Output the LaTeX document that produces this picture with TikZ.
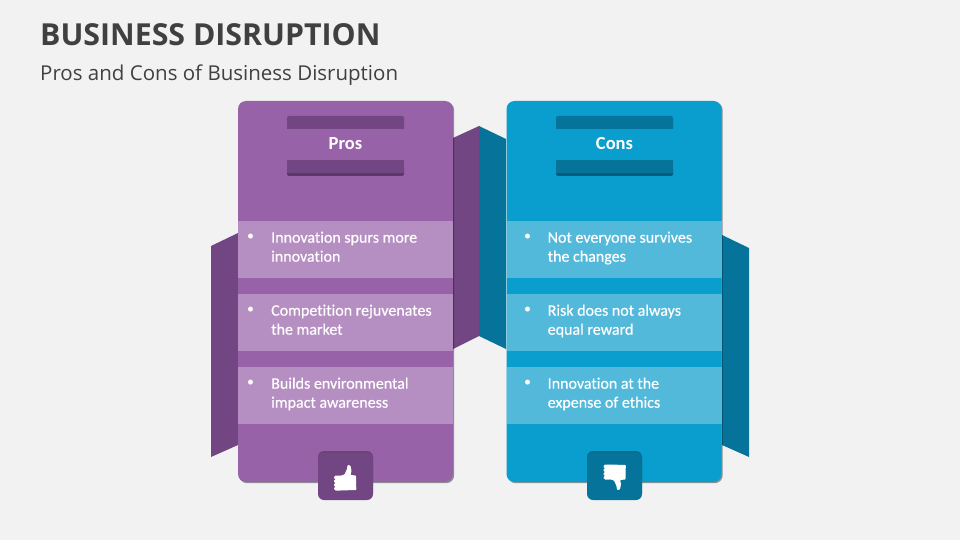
\documentclass[tikz,border=0pt]{standalone}
\usepackage{fontspec}
\setmainfont{Open Sans}
\newfontfamily\cardfont{Carlito}
\newfontfamily\itemfont[FakeBold=0.35,Ligatures=NoCommon]{Carlito}
\usetikzlibrary{positioning,shadows,calc}

\definecolor{pagebg}{HTML}{F2F2F2}
\definecolor{titlegray}{HTML}{404040}
\definecolor{prosmain}{HTML}{9862A8}
\definecolor{prosdark}{HTML}{724682}
\definecolor{proslight}{HTML}{B68FC2}
\definecolor{consmain}{HTML}{099ECD}
\definecolor{consdark}{HTML}{06749A}
\definecolor{conslight}{HTML}{53B9DB}

\tikzset{
  cardbox/.style={rectangle,rounded corners=8pt,minimum width=215pt,minimum height=381pt,inner sep=0pt,outer sep=0pt,
    drop shadow={shadow xshift=1.2pt,shadow yshift=-1.2pt,opacity=.4,fill=black}},
  bandbox/.style={rectangle,minimum width=215pt,minimum height=57pt,inner sep=0pt,outer sep=0pt,node distance=16pt},
  headtext/.style={font=\cardfont\bfseries\fontsize{18.5}{20}\selectfont,text=white,inner sep=0pt},
  itemtext/.style={font=\itemfont\fontsize{16}{19}\selectfont,text=white,align=left,inner sep=0pt,anchor=west,
    execute at begin node=\strut,execute at end node=\strut},
  itemdot/.style={font=\cardfont\fontsize{14}{19}\selectfont,text=white,inner sep=0pt},
  iconbox/.style={rectangle,rounded corners=6pt,minimum width=55pt,minimum height=47pt,inner sep=0pt,outer sep=0pt,
    drop shadow={shadow xshift=0pt,shadow yshift=2pt,opacity=.3,fill=black}},
  thumbicon/.pic={
    \fill[white,rounded corners=.8pt] (-6,-2) -- (-1,-3.5) -- (1.5,-9) -- (2,-13) -- (5,-12.5) -- (6,-7) -- (5,-3)
      -- (10.5,-2.5) -- (10.8,12) -- (-6,12.5) -- cycle;
    \foreach \yy in {-2.5,1.2,4.9,8.6}
      \fill[white,rounded corners=1.5pt] (-11.5,\yy) rectangle (-4,\yy+3.9);
  }
}

\begin{document}
\begin{tikzpicture}[x=1pt,y=-1pt]
  \fill[pagebg] (0,0) rectangle (960,540);
  \useasboundingbox (0,0) rectangle (960,540);

  \node[anchor=west,inner sep=0pt,font=\bfseries\fontsize{30.3}{36}\selectfont,text=titlegray] (title) at (40,35) {BUSINESS DISRUPTION};
  \node[anchor=west,inner sep=0pt,font=\fontsize{20.5}{24}\selectfont,text=titlegray] (subtitle) at (40,75) {Pros and Cons of Business Disruption};

  % folded strips behind the cards
  \fill[prosdark] (211,246) -- (238,233) -- (238,445) -- (211,457) -- cycle;
  \fill[prosdark] (453,138) -- (479,126) -- (479,336) -- (453,349) -- cycle;
  \fill[consdark] (479,126) -- (506,139) -- (506,349) -- (479,336) -- cycle;
  \fill[consdark] (722,235) -- (749,248) -- (749,457) -- (722,445) -- cycle;

  \node[cardbox,fill=prosmain] (pros) at (345.5,291.5) {};
  \node[cardbox,fill=consmain] (cons) at (614,291.5) {};

  % header bars
  \fill[prosdark,rounded corners=2pt] (287,129) -- (287,116) -- (404,116) -- (404,129);
  \fill[prosdark!80!black,rounded corners=2pt] (287,165) rectangle (404,176);
  \fill[prosdark] (287,160) rectangle (404,173);
  \fill[consdark,rounded corners=2pt] (556,129) -- (556,116) -- (673,116) -- (673,129);
  \fill[consdark!80!black,rounded corners=2pt] (556,165) rectangle (673,176);
  \fill[consdark] (556,160) rectangle (673,173);

  \node[headtext] (proshead) at (345.5,143.5) {Pros};
  \node[headtext] (conshead) at (614.5,143.5) {Cons};

  % item bands
  \node[bandbox,fill=proslight] (pros1) at (345.5,249.5) {};
  \node[bandbox,fill=proslight,below=of pros1] (pros2) {};
  \node[bandbox,fill=proslight,below=of pros2] (pros3) {};
  \node[bandbox,fill=conslight] (cons1) at (614,249.5) {};
  \node[bandbox,fill=conslight,below=of cons1] (cons2) {};
  \node[bandbox,fill=conslight,below=of cons2] (cons3) {};

  \node[itemtext,right=33pt of pros1.west] (prostext1) {Innovation spurs more\\innovation};
  \node[itemtext,right=33pt of pros2.west] (prostext2) {Competition rejuvenates\\the market};
  \node[itemtext,right=33pt of pros3.west] (prostext3) {Builds environmental\\impact awareness};
  \node[itemtext,right=41pt of cons1.west] (constext1) {Not everyone survives\\the changes};
  \node[itemtext,right=41pt of cons2.west] (constext2) {Risk does not always\\equal reward};
  \node[itemtext,right=41pt of cons3.west] (constext3) {Innovation at the\\expense of ethics};

  \foreach \nm in {pros1,pros2,pros3}
    \node[itemdot] at ($(\nm.north west)+(12.5,16.5)$) {•};
  \foreach \nm in {cons1,cons2,cons3}
    \node[itemdot] at ($(\nm.north west)+(21,16.5)$) {•};

  % thumbs
  \node[iconbox,fill=prosdark] (prosicon) at (345.5,476.5) {};
  \node[iconbox,fill=consdark] (consicon) at (614.5,476.5) {};
  \pic at (345.5,478) {thumbicon};
  \pic[yscale=-1] at (615,477) {thumbicon};
\end{tikzpicture}
\end{document}
